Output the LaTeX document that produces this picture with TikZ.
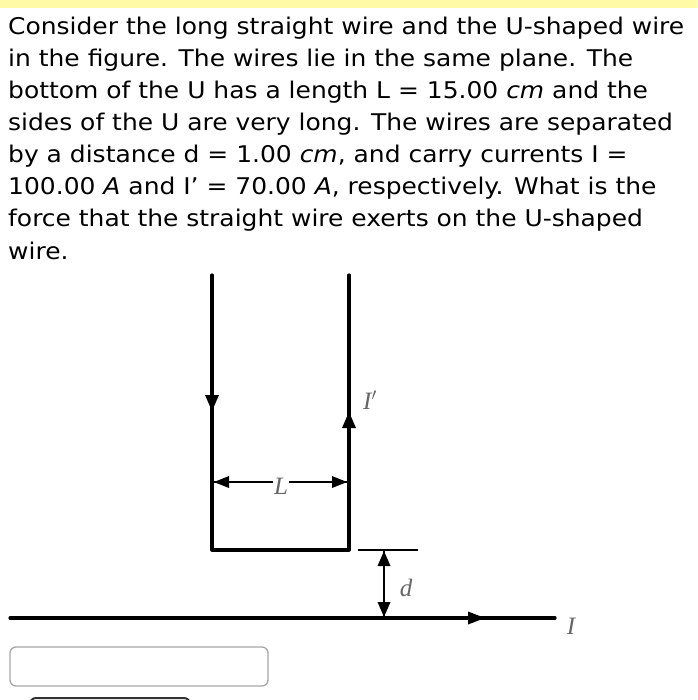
\documentclass[tikz,border=0pt]{standalone}
\usepackage{fontspec}
\setmainfont{DejaVu Sans}[FakeStretch=1.085]
\newfontfamily\figfont{Liberation Serif}
\begin{document}
\begin{tikzpicture}[x=1pt,y=-1pt,
  txt/.style={anchor=base west,inner sep=0pt,font=\fontsize{23}{28}\selectfont},
  wire/.style={line width=3.2pt,line cap=round,line join=round},
  dim/.style={line width=1.5pt},
  head/.style={fill=black},
  figlab/.style={font=\figfont\itshape\fontsize{25}{27}\selectfont,text=black!60,inner sep=1pt}]
\useasboundingbox (0,0) rectangle (697,700);
\fill[yellow!35] (0,0) rectangle (697,8);
\node[txt] (l1) at (8,35) {Consider the long straight wire and the U-shaped wire};
\node[txt] (l2) at (8,67) {in the figure. The wires lie in the same plane. The};
\node[txt] (l3) at (8,99) {bottom of the U has a length L = 15.00 \textit{cm} and the};
\node[txt] (l4) at (8,131) {sides of the U are very long. The wires are separated};
\node[txt] (l5) at (8,163) {by a distance d = 1.00 \textit{cm}, and carry currents I =};
\node[txt] (l6) at (8,195) {100.00 \textit{A} and I' = 70.00 \textit{A}, respectively. What is the};
\node[txt] (l7) at (8,227) {force that the straight wire exerts on the U-shaped};
\node[txt] (l8) at (8,259) {wire.};
% U wire
\coordinate (ul) at (212,275);
\coordinate (bl) at (212,550);
\coordinate (br) at (349,550);
\coordinate (ur) at (349,275);
\draw[wire] (ul) -- (bl) -- (br) -- (ur);
\coordinate (db) at (212,411);
\fill[head,shift={(db)}] (0,0) -- (-7,-16) -- (7,-16) -- cycle;
\coordinate (ub) at (349,412);
\fill[head,shift={(ub)}] (0,0) -- (-7,16) -- (7,16) -- cycle;
\node[figlab] (ip) at (370,400) {I$'$};
% L dimension
\node[figlab] (L) at (281,486) {L};
\coordinate (La) at (214,482); \coordinate (Lb) at (347,482);
\draw[dim] (L.west |- La) -- (La);
\draw[dim] (L.east |- Lb) -- (Lb);
\fill[head,shift={(La)}] (0,0) -- (15,-6) -- (15,6) -- cycle;
\fill[head,shift={(Lb)}] (0,0) -- (-15,-6) -- (-15,6) -- cycle;
% d dimension
\coordinate (t1) at (358,550); \coordinate (t2) at (418,550);
\draw[dim] (t1) -- (t2);
\coordinate (d1) at (384,551); \coordinate (d2) at (384,617);
\draw[dim] (d1) -- (d2);
\fill[head,shift={(d1)}] (0,0) -- (-6.5,15) -- (6.5,15) -- cycle;
\fill[head,shift={(d2)}] (0,0) -- (-6.5,-15) -- (6.5,-15) -- cycle;
\node[figlab] (dl) at (406,588) {d};
% straight wire
\coordinate (wa) at (10,618); \coordinate (wb) at (555,618); \coordinate (wm) at (485,618);
\draw[wire] (wa) -- (wb);
\fill[head,shift={(wm)}] (0,0) -- (-17,-6.5) -- (-17,6.5) -- cycle;
\node[figlab] (Il) at (571,626) {I};
% answer box
\draw[gray!70,line width=1.3pt,rounded corners=6pt] (10,647) rectangle (268,686);
\draw[black!80,line width=2pt,rounded corners=6pt] (30,701) -- (30,698) -- (190,698) -- (190,701);
\end{tikzpicture}
\end{document}
